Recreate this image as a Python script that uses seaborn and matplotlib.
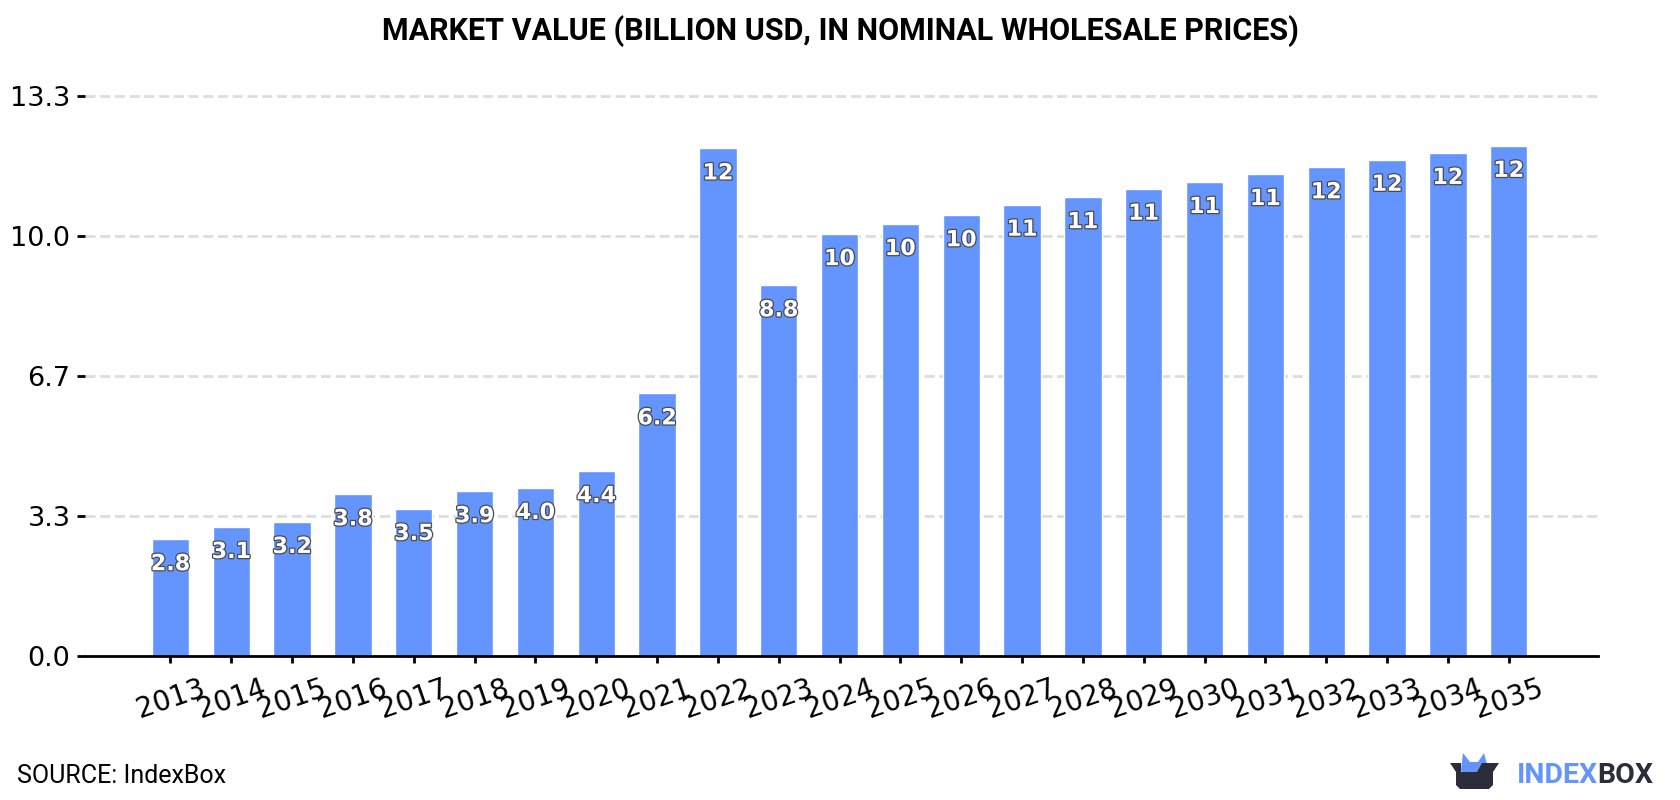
import matplotlib
matplotlib.use("Agg")
import matplotlib.pyplot as plt
import matplotlib.patheffects as pe
from matplotlib.patches import Polygon
from matplotlib.transforms import Affine2D
import seaborn as sns

years = [str(y) for y in range(2013, 2036)]
market_value = [2.78, 3.07, 3.19, 3.849, 3.50, 3.92, 4.00, 4.40, 6.249, 12.08, 8.82, 10.04,
                10.28, 10.49, 10.74, 10.92, 11.12, 11.28, 11.47, 11.63, 11.81, 11.97, 12.14]
y_ticks = [0, 10 / 3, 20 / 3, 10, 40 / 3]
y_tick_labels = ["0.0", "3.3", "6.7", "10.0", "13.3"]

TITLE = "MARKET VALUE (BILLION USD, IN NOMINAL WHOLESALE PRICES)"
BAR_COLOR = "#6495ff"
DARK = "#2b2d3a"

sns.set_theme(style="white")
plt.rcParams["font.family"] = ["DejaVu Sans"]

W, H = 1680, 800
fig = plt.figure(figsize=(W / 100, H / 100), dpi=100, facecolor="white")
ax = fig.add_axes([85 / W, 1 - 656 / H, (1597.5 - 85) / W, (656 - 80) / H])

sns.barplot(x=years, y=market_value, color=BAR_COLOR, saturation=1, width=0.615, ax=ax, zorder=3)

ax.set_xlim(-1.405, 23.46)
ax.set_ylim(0, 576 / 42.02)
ax.set_yticks(y_ticks, y_tick_labels)
ax.set_xlabel("")
ax.set_ylabel("")

ax.grid(axis="y", color="#dddddd", linewidth=2, linestyle=(0, (3.6, 1.7)), zorder=0)
ax.grid(axis="x", visible=False)
ax.set_axisbelow(True)

for side in ("left", "top", "right"):
    ax.spines[side].set_visible(False)
ax.spines["bottom"].set_linewidth(2.0)
ax.spines["bottom"].set_color("black")
ax.spines["bottom"].set_zorder(5)

ax.tick_params(axis="y", left=True, length=5.5, width=2, color="black", labelsize=19.5, pad=5, labelcolor="black")
ax.tick_params(axis="x", bottom=True, length=5, width=2, color="black", labelsize=20, pad=8, labelcolor="black")
for lab in ax.get_xticklabels():
    lab.set_rotation(19)
    lab.set_rotation_mode("default")
    lab.set_ha("center")

# Value labels sit just inside the top of each bar, rounded to two significant digits.
for i, v in enumerate(market_value):
    ax.annotate(
        f"{v:.2g}" if v >= 10 else f"{v:.1f}",
        xy=(i, v), xytext=(0, -18), textcoords="offset points",
        ha="center", va="center", fontsize=16, fontweight="bold", color="white", zorder=6,
        path_effects=[pe.withStroke(linewidth=1.8, foreground="#4a4a4a")],
    )

fig.text(0.5, 1 - 31 / H, TITLE, ha="center", va="center", family="Roboto",
         fontweight="bold", fontsize=22, color="black")
fig.text(17 / W, 1 - 776 / H, "SOURCE: IndexBox", ha="left", va="center", family="Roboto",
         fontsize=18, color="black")

# Brand mark in the lower right corner, laid out in pixel units from the top left.
px = Affine2D().scale(1 / W, -1 / H).translate(0, 1) + fig.transFigure
fig.add_artist(Polygon([(1461, 770), (1463, 753), (1470, 762), (1478, 762), (1484, 753), (1487, 764),
                        (1487, 768), (1478, 772), (1476, 772), (1462, 772)],
                       closed=True, fc=BAR_COLOR, ec="none", transform=px))
fig.add_artist(Polygon([(1450, 763), (1461, 763), (1461, 772), (1477, 772), (1482, 763), (1499, 763),
                        (1493, 772), (1493, 785), (1489, 789), (1460, 789), (1456, 785), (1456, 772)],
                       closed=True, fc=DARK, ec="none", transform=px))
fig.text(1517 / W, 1 - 783 / H, "INDEX", ha="left", va="baseline", family="Roboto",
         fontweight="bold", fontsize=20.5, color=BAR_COLOR)
fig.text(1597 / W, 1 - 783 / H, "BOX", ha="left", va="baseline", family="Roboto",
         fontweight="bold", fontsize=20.5, color=DARK)

fig.savefig("out.png", dpi=100, facecolor="white")
